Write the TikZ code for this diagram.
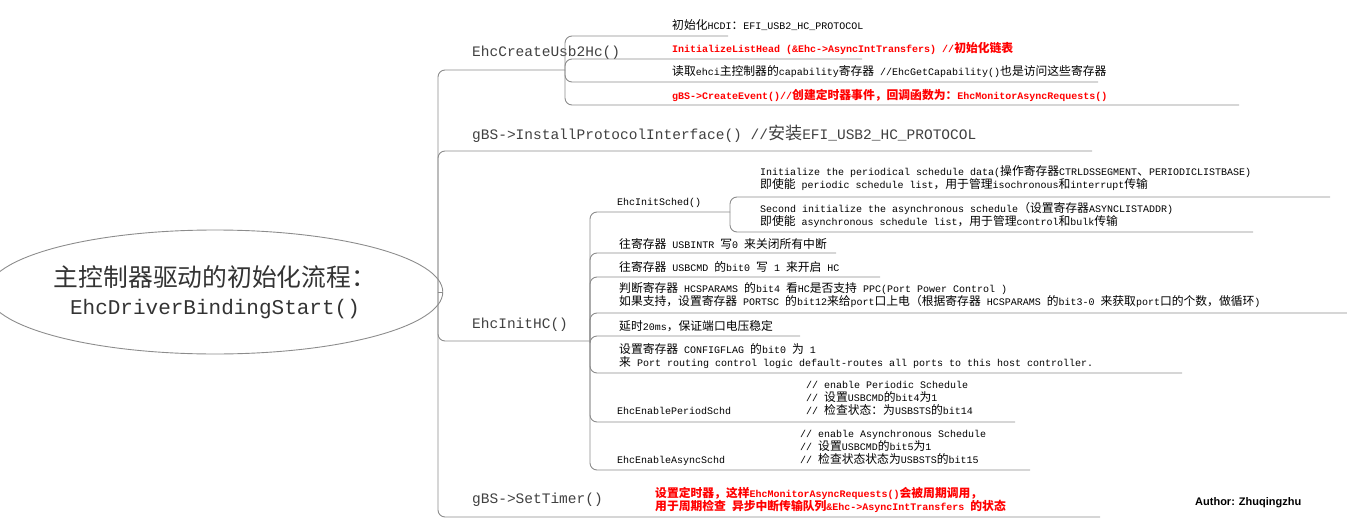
\documentclass[tikz,border=0pt]{standalone}
\usepackage{fontspec}
\usetikzlibrary{shapes.geometric}
\setmainfont{Liberation Mono}
\newfontfamily\cjk[Scale=1.18]{Noto Sans CJK SC}
\newfontfamily\authorfont{Liberation Sans}
\XeTeXinterchartokenstate=1
\newXeTeXintercharclass\mycjk
\makeatletter
\count@="4E00 \loop\ifnum\count@<"A000 \XeTeXcharclass\count@=\mycjk \advance\count@ 1 \repeat
\count@="3000 \loop\ifnum\count@<"3040 \XeTeXcharclass\count@=\mycjk \advance\count@ 1 \repeat
\count@="FF00 \loop\ifnum\count@<"FFF0 \XeTeXcharclass\count@=\mycjk \advance\count@ 1 \repeat
\makeatother
\XeTeXinterchartoks 0 \mycjk = {\cjk}
\XeTeXinterchartoks 4095 \mycjk = {\cjk}
\XeTeXinterchartoks \mycjk 0 = {\rmfamily}
\XeTeXinterchartoks \mycjk 4095 = {\rmfamily}
\definecolor{ln}{RGB}{140,140,140}
\tikzset{
  t/.style={anchor=west,inner sep=0pt,align=left,font=\fontsize{10}{13}\selectfont},
  big/.style={anchor=west,inner sep=0pt,font=\fontsize{14.5}{17}\selectfont,text=black!75},
  redt/.style={text=red,font=\fontsize{10}{13}\selectfont\bfseries},
  br/.style={draw=ln,line width=0.9pt,rounded corners=7pt}
}
\begin{document}
\begin{tikzpicture}[x=1pt,y=-1pt]
\useasboundingbox (0,0) rectangle (1347,530);
% root
\node[draw=ln,line width=0.9pt,ellipse,minimum width=426pt,minimum height=124pt,inner sep=0pt,align=center,font=\fontsize{21}{28}\selectfont,text=black!80] (root) at (215,292) {主控制器驱动的初始化流程：\\\rmfamily EhcDriverBindingStart()};
\coordinate (tr) at (438,292);
\draw[draw=ln,line width=0.9pt] (root.east) -- (tr);
% level 1
\node[big] (c1) at (472,53) {EhcCreateUsb2Hc()};
\node[big] (c2) at (472,134) {gBS->InstallProtocolInterface() //安装EFI\_USB2\_HC\_PROTOCOL};
\node[big] (c3) at (472,325) {EhcInitHC()};
\node[big] (c4) at (472,500) {gBS->SetTimer()};
\coordinate (e1) at (565,70); \coordinate (e2) at (1092,151);
\coordinate (e3) at (590,341); \coordinate (e4) at (1100,517);
\foreach \e in {e1,e2,e3,e4} \draw[br] (tr) |- (\e);
% EhcCreateUsb2Hc children
\node[t] (a1) at (672,25) {初始化HCDI：EFI\_USB2\_HC\_PROTOCOL};
\node[t,redt] (a2) at (672,48) {InitializeListHead (\&Ehc->AsyncIntTransfers) //初始化链表};
\node[t] (a3) at (672,72) {读取ehci主控制器的capability寄存器 //EhcGetCapability()也是访问这些寄存器};
\node[t,redt] (a4) at (672,95) {gBS->CreateEvent()//创建定时器事件，回调函数为：EhcMonitorAsyncRequests()};
\coordinate (f1) at (728,36); \coordinate (f2) at (862,59);
\coordinate (f3) at (1098,82); \coordinate (f4) at (1239,105);
\foreach \e in {f1,f2,f3,f4} \draw[br] (e1) |- (\e);
% EhcInitHC children
\node[t] (b1) at (617,203) {EhcInitSched()};
\node[t] (s1) at (760,178.5) {Initialize the periodical schedule data(操作寄存器CTRLDSSEGMENT、PERIODICLISTBASE)\\即使能 periodic schedule list，用于管理isochronous和interrupt传输};
\node[t] (s2) at (760,214.5) {Second initialize the asynchronous schedule（设置寄存器ASYNCLISTADDR)\\即使能 asynchronous schedule list，用于管理control和bulk传输};
\coordinate (sb) at (730,212);
\coordinate (g1) at (1330,197); \coordinate (g2) at (1253,232);
\foreach \e in {g1,g2} \draw[br] (sb) |- (\e);
\node[t] (b2) at (619,244) {往寄存器 USBINTR 写0 来关闭所有中断};
\node[t] (b3) at (619,267) {往寄存器 USBCMD 的bit0 写 1 来开启 HC};
\node[t] (b4) at (619,295.5) {判断寄存器 HCSPARAMS 的bit4 看HC是否支持 PPC(Port Power Control )\\如果支持，设置寄存器 PORTSC 的bit12来给port口上电（根据寄存器 HCSPARAMS 的bit3-0 来获取port口的个数，做循环)};
\node[t] (b5) at (619,326) {延时20ms，保证端口电压稳定};
\node[t] (b6) at (619,356.5) {设置寄存器 CONFIGFLAG 的bit0 为 1\\来 Port routing control logic default-routes all ports to this host controller.};
\node[t] (b7) at (617,411) {EhcEnablePeriodSchd};
\node[t] (b7c) at (806,398) {// enable Periodic Schedule\\// 设置USBCMD的bit4为1\\// 检查状态：为USBSTS的bit14};
\node[t] (b8) at (617,461) {EhcEnableAsyncSchd};
\node[t] (b8c) at (800,447.5) {// enable Asynchronous Schedule\\// 设置USBCMD的bit5为1\\// 检查状态状态为USBSTS的bit15};
\coordinate (h2) at (836,253); \coordinate (h3) at (880,277);
\coordinate (h4) at (1347,313); \coordinate (h5) at (800,336);
\coordinate (h6) at (1182,373); \coordinate (h7) at (1015,422);
\coordinate (h8) at (1030,470);
\draw[br] (e3) |- (sb);
\foreach \e in {h2,h3,h4,h5,h6,h7,h8} \draw[br] (e3) |- (\e);
% SetTimer note
\node[t,redt] (d1) at (655,499.5) {设置定时器，这样EhcMonitorAsyncRequests()会被周期调用，\\用于周期检查 异步中断传输队列\&Ehc->AsyncIntTransfers 的状态};
\node[anchor=west,inner sep=0pt,font=\authorfont\fontsize{11}{13}\selectfont\bfseries] (au) at (1195,503) {Author: Zhuqingzhu};
\end{tikzpicture}
\end{document}
